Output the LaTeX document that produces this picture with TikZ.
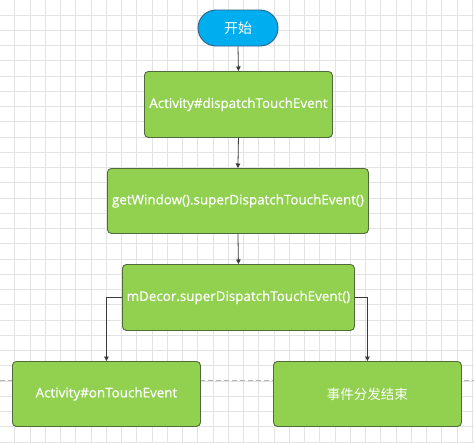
\documentclass[tikz,border=0pt]{standalone}
\usepackage{fontspec}
\setmainfont{Open Sans}[FakeBold=0.6]
\newfontfamily\cjk{Noto Sans CJK SC}
\usetikzlibrary{arrows.meta,positioning}
\definecolor{boxgreen}{HTML}{92D050}
\definecolor{boxedge}{HTML}{4F6B3C}
\definecolor{startblue}{HTML}{00AEEF}
\definecolor{startedge}{HTML}{2B5F85}
\definecolor{gridgray}{HTML}{E3E3E3}
\definecolor{linegray}{HTML}{3A3A3A}
\tikzset{
  stepbox/.style={draw=boxedge, line width=0.9pt, fill=boxgreen, rounded corners=4pt,
    text=white, font=\fontsize{13.4}{15}\selectfont, inner sep=0pt, anchor=north west},
  startbox/.style={draw=startedge, line width=0.9pt, fill=startblue, rounded corners=18pt,
    text=white, font=\cjk\fontsize{14}{16}\selectfont, inner sep=0pt},
  conn/.style={draw=linegray, line width=0.8pt, -{Triangle[length=4.5pt,width=4.5pt]}}
}
\begin{document}
\begin{tikzpicture}[x=1pt,y=-1pt]
\useasboundingbox (0,0) rectangle (474,442);
\fill[white] (0,0) rectangle (474,442);
% grid
\foreach \i in {0,...,30} {
  \draw[gridgray, line width=0.6pt] ({14.7+15.25*\i},0) -- ({14.7+15.25*\i},442);
}
\foreach \j in {0,...,28} {
  \draw[gridgray, line width=0.6pt] (0,{15+15.25*\j}) -- (474,{15+15.25*\j});
}
\draw[gray!60, dash pattern=on 5pt off 3pt, line width=0.7pt] (0,380) -- (474,380);
% nodes
\node[startbox, minimum width=80pt, minimum height=36pt] (start) at (238,28) {开始};
\node[stepbox, minimum width=188pt, minimum height=66pt] (b1) at (144,71) {Activity\#dispatchTouchEvent};
\node[stepbox, minimum width=261pt, minimum height=65pt] (b2) at (107,168) {getWindow().superDispatchTouchEvent()};
\node[stepbox, minimum width=232pt, minimum height=66pt] (b3) at (122,264) {mDecor.superDispatchTouchEvent()};
\node[stepbox, minimum width=188pt, minimum height=65pt] (b4) at (12,361) {Activity\#onTouchEvent};
\node[stepbox, minimum width=188pt, minimum height=65pt, font=\cjk\fontsize{13.5}{15}\selectfont] (b5) at (273,361) {事件分发结束};
% connectors
\draw[conn] (start.south) -- (b1.north);
\draw[conn] (b1.south) -- (b2.north);
\draw[conn] (b2.south) -- (b3.north);
\draw[conn] (b3.west) -| (b4.north);
\draw[conn] (b3.east) -| (b5.north);
\end{tikzpicture}
\end{document}
